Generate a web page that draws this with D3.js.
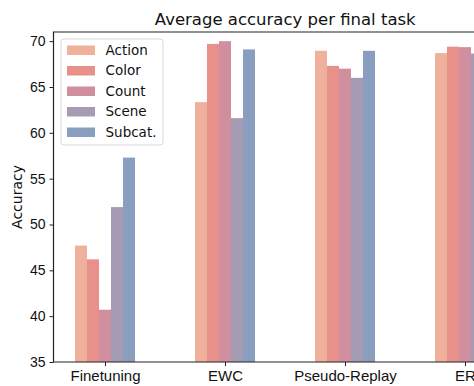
<!DOCTYPE html>
<html>
<head>
<meta charset="utf-8">
<script src="https://cdn.jsdelivr.net/npm/d3@7"></script>
<style>
  body { margin: 0; background: #fff; }
  svg { display: block; font-family: "DejaVu Sans", sans-serif; }
</style>
</head>
<body>
<script>
// Data.
var methods = ["Finetuning", "EWC", "Pseudo-Replay", "ER"],
  tasks = ["Action", "Color", "Count", "Scene", "Subcat."],
  colors = ["#efb19b", "#e8918a", "#cf8f9f", "#a59cb3", "#8a9fbf"],
  yTicks = [35, 40, 45, 50, 55, 60, 65, 70];

// one array per task, indexed like methods
var action = [47.7, 63.35, 68.95, 68.7],
  color = [46.2, 69.7, 67.3, 69.4],
  count = [40.7, 70.0, 67.0, 69.35],
  scene = [51.9, 61.6, 66.0, 68.65],
  subcat = [57.3, 69.1, 68.95, 68.8];
var series = [action, color, count, scene, subcat];

// Layout.
var width = 474,
  height = 386,
  plotLeft = 53.5,
  plotRight = 517,
  plotTop = 32,
  plotBottom = 362,
  groupStep = 120,
  barWidth = 12;

var svg = d3.select("body").append("svg")
  .attr("width", width)
  .attr("height", height);

var x = d3.scaleLinear()
  .domain([0, methods.length - 1])
  .range([105, 105 + groupStep * (methods.length - 1)]);

var y = d3.scaleLinear()
  .domain([35, 71])
  .range([plotBottom, plotTop]);

var offset = d3.scaleBand()
  .domain(tasks)
  .range([-barWidth * tasks.length / 2, barWidth * tasks.length / 2]);

// Bars.
tasks.forEach(function(task, t) {
  svg.append("g")
    .selectAll("rect")
    .data(series[t])
  .enter().append("rect")
    .attr("x", function(d, i) { return x(i) + offset(task); })
    .attr("width", offset.bandwidth())
    .attr("y", function(d) { return y(d); })
    .attr("height", function(d) { return y(35) - y(d); })
    .style("fill", colors[t]);
});

// Axes.
var yAxis = svg.append("g")
  .attr("transform", "translate(" + plotLeft + ",0)")
  .call(d3.axisLeft(y).tickValues(yTicks).tickSize(4).tickPadding(4));
yAxis.selectAll("text").style("font-size", "14px");

var xAxis = svg.append("g")
  .attr("transform", "translate(0," + plotBottom + ")")
  .call(d3.axisBottom(x)
    .tickValues(d3.range(methods.length))
    .tickFormat(function(i) { return methods[i]; })
    .tickSize(4).tickPadding(4));
xAxis.selectAll("text").style("font-size", "15px");

[yAxis, xAxis].forEach(function(a) {
  a.select(".domain").remove();
  a.selectAll("text").attr("fill", "#111");
  a.selectAll("line").attr("stroke", "#222").attr("stroke-width", 1);
});

// spines
svg.append("path")
  .attr("d", "M" + plotRight + "," + plotTop + "H" + plotLeft + "V" + plotBottom + "H" + plotRight)
  .attr("fill", "none")
  .attr("stroke", "#222")
  .attr("stroke-width", 1.2);

// Title and y label.
svg.append("text")
  .attr("x", (plotLeft + plotRight) / 2)
  .attr("y", 25)
  .attr("text-anchor", "middle")
  .style("font-size", "16.5px")
  .attr("fill", "#111")
  .text("Average accuracy per final task");

svg.append("text")
  .attr("transform", "translate(22," + (plotTop + plotBottom) / 2 + ") rotate(-90)")
  .attr("text-anchor", "middle")
  .style("font-size", "14px")
  .attr("fill", "#111")
  .text("Accuracy");

// Legend.
var legend = svg.append("g").attr("transform", "translate(61,39)");
legend.append("rect")
  .attr("width", 102)
  .attr("height", 106)
  .attr("rx", 3)
  .attr("fill", "#fff")
  .attr("fill-opacity", 0.85)
  .attr("stroke", "#d8d8d8");

var items = legend.selectAll("g.item")
  .data(tasks)
  .enter().append("g")
  .attr("class", "item")
  .attr("transform", function(d, i) { return "translate(0," + (11 + i * 20.5) + ")"; });

items.append("rect")
  .attr("x", 6)
  .attr("y", -4.5)
  .attr("width", 28)
  .attr("height", 9.5)
  .style("fill", function(d, i) { return colors[i]; });

items.append("text")
  .attr("x", 44.5)
  .attr("dy", "0.35em")
  .style("font-size", "13.5px")
  .attr("fill", "#111")
  .text(function(d) { return d; });
</script>
</body>
</html>
